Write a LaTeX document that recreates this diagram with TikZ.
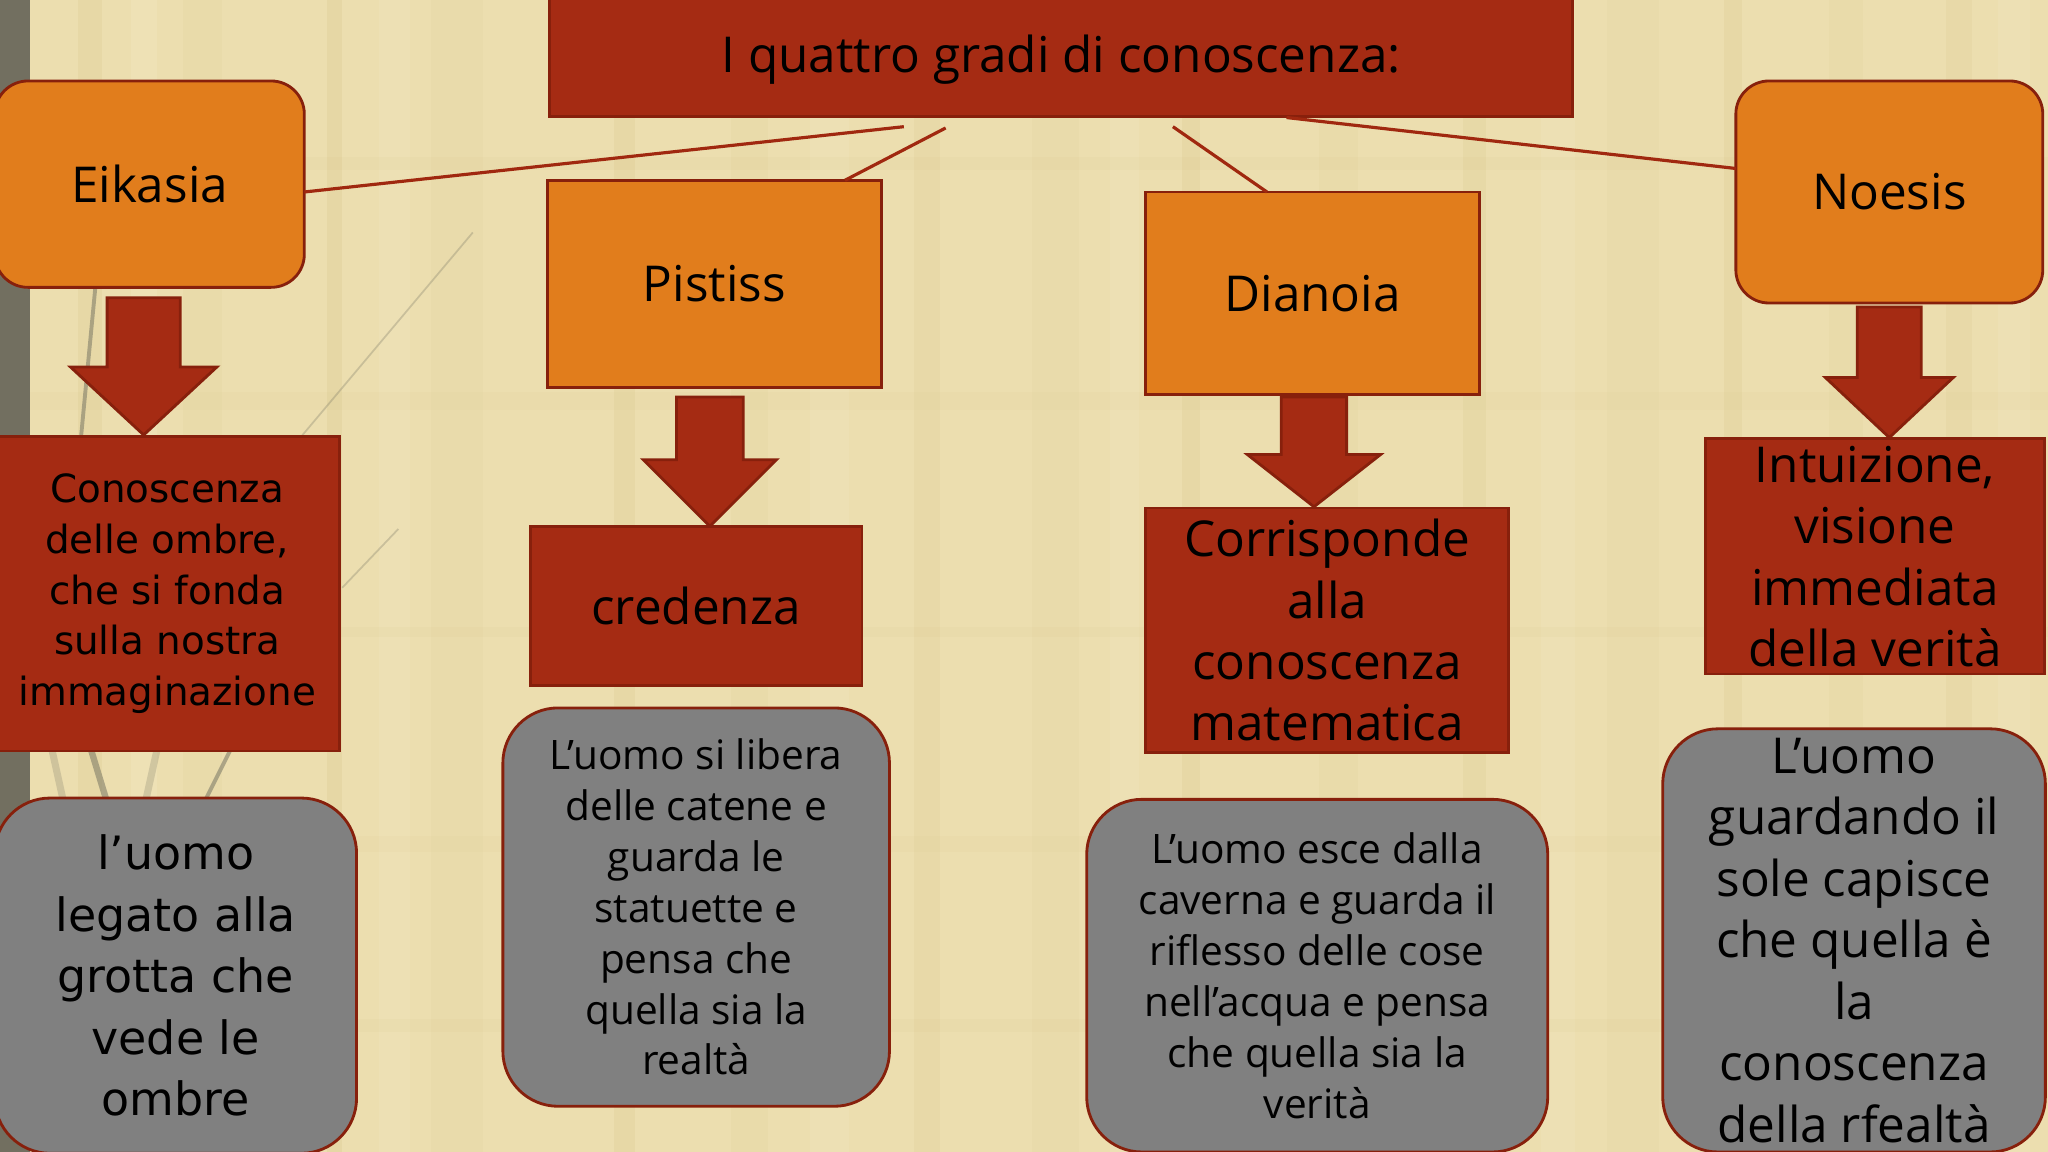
\documentclass[tikz,border=0pt]{standalone}
\usepackage{fontspec}
\setmainfont{Open Sans}
\newfontfamily\widefont{DejaVu Sans}
\definecolor{bgc}{RGB}{236,222,175}
\definecolor{tanc}{RGB}{205,185,120}
\definecolor{litec}{RGB}{245,235,200}
\definecolor{stripc}{RGB}{114,111,96}
\definecolor{redc}{RGB}{165,43,19}
\definecolor{orc}{RGB}{225,125,28}
\definecolor{grayc}{RGB}{128,128,128}
\definecolor{bordc}{RGB}{135,32,12}
\definecolor{connc}{RGB}{160,40,15}
\definecolor{stemc}{RGB}{120,118,100}
\newcommand\blkarrow[6]{%
  \draw[blk] (#1-#5,#2) -- (#1+#5,#2) -- (#1+#5,#3) -- (#1+#6,#3) -- (#1,#4)
    -- (#1-#6,#3) -- (#1-#5,#3) -- cycle;}
\begin{document}
\begin{tikzpicture}[x=0.013cm,y=-0.013cm,
  box/.style={draw=bordc, line width=0.8pt, inner sep=0pt, outer sep=0pt, align=center, text=black},
  sz/.style 2 args={minimum width=#1*0.013cm, minimum height=#2*0.013cm},
  redbox/.style={box, fill=redc},
  orbox/.style={box, fill=orc},
  orround/.style={orbox, rounded corners=0.33cm},
  graybox/.style={box, fill=grayc, rounded corners=0.55cm},
  big/.style={font=\fontsize{14}{17.4}\selectfont},
  small/.style={font=\fontsize{11.5}{14.4}\selectfont},
  conn/.style={draw=connc, line width=0.9pt},
  blk/.style={fill=redc, draw=bordc, line width=0.8pt},
  stem/.style={draw=stemc, line width=1.1pt, opacity=0.55},
  faint/.style={draw=stemc, line width=0.5pt, opacity=0.3},
]
\useasboundingbox (0,0) rectangle (1568,882);
% background
\fill[bgc] (0,0) rectangle (1568,882);
\foreach \x/\w/\o in {60/18/0.15,140/30/0.08,250/12/0.18,330/40/0.07,470/16/0.15,560/28/0.08,700/20/0.12,790/36/0.07,905/14/0.15,1010/30/0.08,1120/18/0.13,1230/40/0.07,1320/14/0.15,1400/26/0.08,1490/20/0.12}
  \fill[tanc, opacity=\o] (\x,0) rectangle (\x+\w,882);
\foreach \x/\w/\o in {100/20/0.25,290/24/0.2,620/30/0.2,850/22/0.2,1180/26/0.2,1530/24/0.2}
  \fill[litec, opacity=\o] (\x,0) rectangle (\x+\w,882);
\foreach \y/\h/\o in {120/10/0.07,300/14/0.06,480/8/0.07,640/12/0.06,780/10/0.07}
  \fill[tanc, opacity=\o] (0,\y) rectangle (1568,\y+\h);
\fill[stripc] (0,0) rectangle (23,882);
% faint stems
\draw[stem] (73,220) -- (62,335);
\draw[faint] (362,178) -- (230,335);
\draw[faint] (305,405) -- (262,450);
\draw[stem, opacity=0.25, line width=2pt] (40,575) -- (48,611);
\draw[stem, line width=1.8pt] (70,575) -- (81,611);
\draw[stem, opacity=0.25, line width=2pt] (120,575) -- (112,611);
\draw[stem] (176,575) -- (158,611);
% title
\node[redbox, sz={783}{94}, font=\fontsize{14}{17}\selectfont, text height=13.6pt, text depth=3.4pt] (tit) at (812.5,42) {I quattro gradi di conoscenza:};
% top level
\node[orround, sz={237}{158}, big] (eik) at (114.5,141) {Eikasia};
\node[orbox, sz={256}{159}, big] (pis) at (547,217.5) {Pistiss};
\node[orbox, sz={256}{155}, big] (dia) at (1005,224.5) {Dianoia};
\node[orround, sz={235}{170}, big] (noe) at (1446.5,147) {Noesis};
% connectors
\coordinate (t1) at (692,97);
\coordinate (t2) at (724,98);
\coordinate (t3) at (898,97);
\coordinate (t4) at (985,90);
\draw[conn] ([yshift=-0.078cm]eik.east) -- (t1);
\draw[conn] ([xshift=1.3cm]pis.north) -- (t2);
\draw[conn] ([xshift=-0.455cm]dia.north) -- (t3);
\draw[conn] ([yshift=0.234cm]noe.west) -- (t4);
% block arrows
\blkarrow{110}{228}{281}{333}{28}{56}
\blkarrow{543.5}{304}{352}{403}{25.5}{51}
\blkarrow{1006}{304}{348}{388}{25}{51}
\blkarrow{1446.5}{235}{289}{335}{24.5}{49}
% second level
\node[redbox, sz={264}{241}, font=\widefont\fontsize{11}{14.4}\selectfont] (con) at (128,454.5)
  {Conoscenza\\delle ombre,\\che si fonda\\sulla nostra\\immaginazione};
\node[redbox, sz={254}{122}, big] (cre) at (533,464) {credenza};
\node[redbox, sz={278}{187}, big] (cor) at (1016,482.5) {Corrisponde\\alla\\conoscenza\\matematica};
\node[redbox, sz={259}{180}, big] (int) at (1435.5,426) {Intuizione,\\visione\\immediata\\della verità};
% third level
\node[graybox, sz={277}{272}, font=\widefont\fontsize{13}{17.4}\selectfont] (g1) at (134.5,747)
  {l’uomo\\legato alla\\grotta che\\vede le\\ombre};
\node[graybox, sz={296}{305}, small] (g2) at (533,694.5)
  {L’uomo si libera\\delle catene e\\guarda le\\statuette e\\pensa che\\quella sia la\\realtà};
\node[graybox, sz={353}{270}, small] (g3) at (1008.5,747)
  {L’uomo esce dalla\\caverna e guarda il\\riflesso delle cose\\nell’acqua e pensa\\che quella sia la\\verità};
\node[graybox, sz={293}{324}, big] (g4) at (1419.5,720)
  {L’uomo\\guardando il\\sole capisce\\che quella è\\la\\conoscenza\\della rfealtà};
\end{tikzpicture}
\end{document}
